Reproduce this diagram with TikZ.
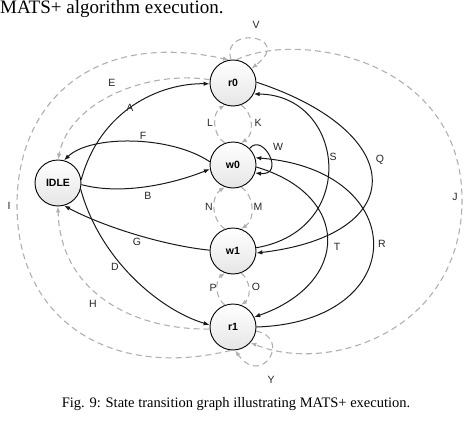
\documentclass[tikz,border=0pt]{standalone}
\usepackage{fontspec}
\setmainfont{Liberation Serif}
\setsansfont{Liberation Sans}
\usetikzlibrary{arrows.meta}
\begin{document}
\begin{tikzpicture}[x=1pt,y=-1pt,
  state/.style={circle,draw=black,line width=0.9pt,minimum size=46pt,inner sep=0pt,top color=white,bottom color=gray!20,font=\sffamily\bfseries\fontsize{10.5}{12}\selectfont},
  tr/.style={line width=1pt,draw=black!90,-{Latex[length=6pt,width=4.5pt]}},
  dtr/.style={line width=1.1pt,draw=gray!62,dash pattern=on 6pt off 4pt,-{Latex[length=6pt,width=4.5pt]}},
  lbl/.style={font=\sffamily\fontsize{10.5}{12}\selectfont,text=black!85,inner sep=0pt},
]
\useasboundingbox (0,0) rectangle (474,436);

\node[font=\fontsize{19}{22}\selectfont,anchor=base west,inner sep=0pt] (top) at (0,14) {MATS+ algorithm execution.};
\node[font=\fontsize{14.5}{17}\selectfont,anchor=base,inner sep=0pt] (cap) at (236,407) {Fig. 9: State transition graph illustrating MATS+ execution.};

\node[state] (r0) at (233,83) {r0};
\node[state] (w0) at (233,165) {w0};
\node[state] (w1) at (233,251) {w1};
\node[state] (r1) at (233,327) {r1};
\node[state] (idle) at (58,183) {IDLE};

% dashed transitions
\draw[dtr] (r0.172) .. controls (150,70) and (70,100) .. (idle.90);
\draw[dtr] (r1.185) .. controls (130,330) and (60,290) .. (idle.-90);
\draw[dtr] (r1.-95) .. controls (110,380) and (17,320) .. (17,205) .. controls (17,100) and (95,30) .. (r0.100);
\draw[dtr] (r0.82) .. controls (300,30) and (462,60) .. (462,200) .. controls (462,330) and (330,375) .. (r1.-42);
\draw[dtr] (r0.95) .. controls (220,25) and (295,35) .. (r0.38);
\draw[dtr] (r1.-10) .. controls (292,338) and (262,388) .. (r1.-85);
\draw[dtr] (w0.110) .. controls (212,135) and (212,113) .. (r0.250);
\draw[dtr] (r0.290) .. controls (254,113) and (254,135) .. (w0.70);
\draw[dtr] (w1.110) .. controls (211,220) and (211,196) .. (w0.250);
\draw[dtr] (w0.290) .. controls (255,196) and (255,220) .. (w1.70);
\draw[dtr] (r1.110) .. controls (215,298) and (215,280) .. (w1.250);
\draw[dtr] (w1.290) .. controls (251,280) and (251,298) .. (r1.70);

% solid transitions
\draw[tr] (idle.8) .. controls (100,110) and (160,83) .. (r0.182);
\draw[tr] (w0.172) .. controls (170,135) and (90,135) .. (idle.75);
\draw[tr] (idle.-4) .. controls (120,195) and (170,185) .. (w0.190);
\draw[tr] (w1.178) .. controls (160,245) and (100,225) .. (idle.-75);
\draw[tr] (idle.-15) .. controls (100,260) and (160,310) .. (r1.175);
\draw[tr] (w0.45) .. controls (263,132) and (286,176) .. (w0.-20);
\draw[tr] (w1.8) .. controls (360,230) and (345,95) .. (r0.-28);
\draw[tr] (r0.2) .. controls (410,133) and (410,235) .. (w1.-5);
\draw[tr] (w0.-5) .. controls (351,195) and (351,283) .. (r1.25);
\draw[tr] (r1.0) .. controls (412,322) and (412,170) .. (w0.18);

% labels
\node[lbl] (lA) at (130,108) {A};
\node[lbl] (lB) at (148,196) {B};
\node[lbl] (lD) at (115,267) {D};
\node[lbl] (lE) at (112,83) {E};
\node[lbl] (lF) at (143,136) {F};
\node[lbl] (lG) at (137,242) {G};
\node[lbl] (lH) at (93,304) {H};
\node[lbl] (lI) at (9,206) {I};
\node[lbl] (lJ) at (455,197) {J};
\node[lbl] (lK) at (258,123) {K};
\node[lbl] (lL) at (210,123) {L};
\node[lbl] (lM) at (258,207) {M};
\node[lbl] (lN) at (209,207) {N};
\node[lbl] (lO) at (256,287) {O};
\node[lbl] (lP) at (213,288) {P};
\node[lbl] (lQ) at (380,160) {Q};
\node[lbl] (lR) at (382,244) {R};
\node[lbl] (lS) at (333,157) {S};
\node[lbl] (lT) at (337,247) {T};
\node[lbl] (lV) at (256,25) {V};
\node[lbl] (lW) at (278,147) {W};
\node[lbl] (lY) at (271,380) {Y};
\end{tikzpicture}
\end{document}
